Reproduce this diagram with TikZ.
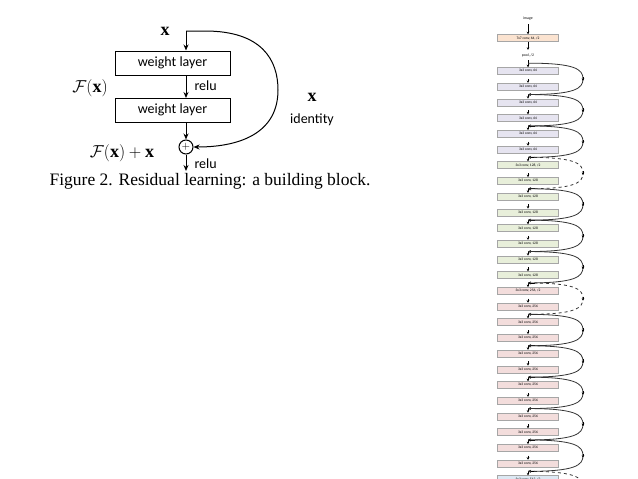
\documentclass[tikz,border=0pt]{standalone}
\usepackage{fontspec}
\setmainfont{Liberation Serif}
\newfontfamily\carfont{Carlito}
\usetikzlibrary{arrows.meta}
\definecolor{cPeach}{HTML}{FBE3D0}
\definecolor{cLav}{HTML}{E6E4F0}
\definecolor{cGreen}{HTML}{E8EFDA}
\definecolor{cPink}{HTML}{F3DDDC}
\definecolor{cBlue}{HTML}{DCE8F3}
\begin{document}
\begin{tikzpicture}[x=1pt,y=-1pt,
  wl/.style={draw,line width=1pt,minimum width=115pt,minimum height=24pt,inner sep=0pt,font=\carfont\fontsize{14}{15}\selectfont},
  lbl/.style={font=\carfont\fontsize{14}{15}\selectfont},
  mth/.style={font=\fontsize{18}{18}\selectfont},
  arr/.style={-{Stealth[length=6pt,width=5pt]},line width=1pt},
  sb/.style={draw=gray!70,line width=0.5pt,minimum width=61pt,minimum height=7pt,inner sep=0pt,font=\carfont\fontsize{3.6}{4}\selectfont},
  sarr/.style={-{Stealth[length=2.5pt,width=2.5pt]},line width=0.8pt},
  skip/.style={line width=0.8pt,black!80}]
\useasboundingbox (0,0) rectangle (638,479);
% ---- left building block
\coordinate (xin) at (186,31);
\node[mth] (xl) at (165,31) {$\mathbf{x}$};
\node[wl] (w1) at (172.5,63) {weight layer};
\node[wl] (w2) at (172.5,110) {weight layer};
\coordinate (t1) at (186,75);
\coordinate (t2) at (186,98);
\coordinate (t3) at (186,122);
\node[draw,circle,line width=1pt,minimum size=14pt,inner sep=0pt] (add) at (186,147) {};
\node[font=\fontsize{11}{11}\selectfont] (plus) at (add) {$+$};
\coordinate (out) at (186,171);
\draw[arr] (xin) -- (w1.north -| xin);
\draw[arr] (t1) -- (t2);
\draw[arr] (t3) -- (add);
\draw[arr] (add) -- (out);
\node[lbl,anchor=west] (r1) at (191,86) {relu};
\node[lbl,anchor=west] (r2) at (191,164) {relu};
\node[mth] (fx) at (90,88) {$\mathcal{F}(\mathbf{x})$};
\node[mth] (fxx) at (122,153) {$\mathcal{F}(\mathbf{x})+\mathbf{x}$};
\node[mth] (xr) at (312,97) {$\mathbf{x}$};
\node[lbl] (id) at (312,120) {identity};
\draw[arr] (xin) -- (205,31) .. controls (262,31) and (278,60) .. (278,90)
  .. controls (278,130) and (245,147) .. (add.east);
\node[font=\fontsize{17.5}{18}\selectfont] (cap) at (210,181) {Figure 2. Residual learning: a building block.};
% ---- right network
\node[font=\carfont\fontsize{3.8}{4}\selectfont] (img) at (528,19) {image};
\node[sb,fill=cPeach] (c7) at (528,38) {7x7 conv, 64, /2};
\node[font=\carfont\fontsize{3.8}{4}\selectfont] (pool) at (528,55) {pool, /2};
\draw[sarr] (img) -- (c7);
\draw[sarr] (c7) -- (pool);
\begin{scope}
\clip (480,0) rectangle (638,479);
\foreach \i in {0,...,26}{
  \pgfmathsetmacro{\yy}{71+15.7*\i}
  \ifnum\i<6 \def\fc{cLav}\def\tx{3x3 conv, 64}\else
  \ifnum\i<14 \def\fc{cGreen}\def\tx{3x3 conv, 128}\else
  \ifnum\i<26 \def\fc{cPink}\def\tx{3x3 conv, 256}\else
  \def\fc{cBlue}\def\tx{3x3 conv, 512, /2}\fi\fi\fi
  \ifnum\i=6 \def\tx{3x3 conv, 128, /2}\fi
  \ifnum\i=14 \def\tx{3x3 conv, 256, /2}\fi
  \node[sb,fill=\fc] (b\i) at (528,\yy) {\tx};
  \coordinate (j\i) at (528,\yy-7.85);
}
\coordinate (j27) at (528,71+15.7*26+7.85);
\coordinate (j28) at (528,71+15.7*27+7.85);
\draw[sarr] (pool) -- (b0);
\foreach \i in {1,...,26}{ \draw[sarr] (j\i) -- (b\i); }
\foreach \k in {0,...,13}{
  \pgfmathtruncatemacro{\a}{2*\k}
  \pgfmathtruncatemacro{\b}{2*\k+2}
  \pgfmathsetmacro{\ya}{71+15.7*\a-7.85}
  \pgfmathsetmacro{\yb}{71+15.7*\b-7.85}
  \pgfmathsetmacro{\ym}{(\ya+\yb)/2}
  \ifnum\k=3 \def\st{dashed}\else\ifnum\k=7 \def\st{dashed}\else\ifnum\k=13 \def\st{dashed}\else\def\st{solid}\fi\fi\fi
  \draw[skip,\st] (j\a) .. controls (575,\ya) and (583,\ya+6) .. (583,\ym)
     .. controls (583,\yb-6) and (575,\yb) .. (j\b);
  \draw[sarr] (583,\ym-2) -- (583,\ym+2);
  \draw[-{Stealth[length=3pt,width=3pt]},line width=0.8pt] (535,\yb) -- (j\b);
}
\end{scope}
\end{tikzpicture}
\end{document}
